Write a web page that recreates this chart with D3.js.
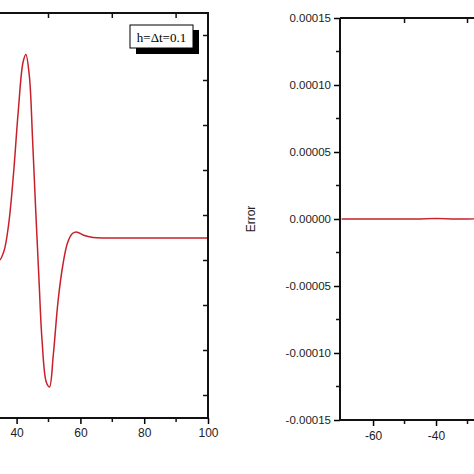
<!DOCTYPE html><html><head><meta charset="utf-8"><script src="https://cdn.jsdelivr.net/npm/d3@7"></script>
<style>body{margin:0;background:#fff}svg{display:block}</style></head><body><svg id="c" width="474" height="474"></svg>
<script>
const leftX=[33,34.5,36,37.5,39,40.5,42,42.9,44,45,46,47,48,49.3,50.3,51.5,53,54.5,56,57.5,59,61,64,68,80,100];
const leftY=[-0.2,-0.5,-0.3,0.3,1.4,2.8,3.9,4.08,3.6,2.2,0.6,-0.9,-2.3,-3.2,-3.31,-2.6,-1.4,-0.6,-0.1,0.1,0.13,0.06,0.01,0,0,0];
const rightX=[-70,-60,-50,-45,-40,-35,-30,-25,-20];
const rightY=[0,0,0,0,0.0000005,0,0,0.0000003,0];
const leftXTicks=[40,60,80,100];
const rightYTicks=[0.00015,0.0001,0.00005,0,-0.00005,-0.0001,-0.00015];
const rightXTicks=[-60,-40];
const legendText="h=Δt=0.1";

const svg=d3.select("#c");
const red="#c8202a";
const fmtH=f=>d=>f(d).replace("−","-");
// left panel
const xL=d3.scaleLinear().domain([0,100]).range([-111,208]);
const yL=d3.scaleLinear().domain([-4,5]).range([418,13]);
const gL=svg.append("g");
gL.append("path").datum(leftX.map((x,i)=>[x,leftY[i]])).attr("fill","none").attr("stroke",red).attr("stroke-width",1.5)
 .attr("d",d3.line().x(d=>xL(d[0])).y(d=>yL(d[1])).curve(d3.curveCatmullRom));
gL.append("rect").attr("x",xL(0)).attr("y",yL(5)).attr("width",xL(100)-xL(0)).attr("height",yL(-4)-yL(5)).attr("fill","none").attr("stroke","#111").attr("stroke-width",2);
const bx=gL.append("g").attr("transform",`translate(0,${yL(-4)})`).call(d3.axisBottom(xL).tickValues(leftXTicks).tickSize(6).tickPadding(4));
bx.select(".domain").remove();
bx.selectAll("text").attr("font-family","Liberation Sans, Arial").attr("font-size",12).attr("fill","#222");
bx.selectAll("line").attr("stroke-width",1.5);
[30,50,70,90].forEach(v=>gL.append("line").attr("x1",xL(v)).attr("x2",xL(v)).attr("y1",yL(-4)).attr("y2",yL(-4)+4).attr("stroke","#111").attr("stroke-width",1.5));
[50,70,90].forEach(v=>gL.append("line").attr("x1",xL(v)).attr("x2",xL(v)).attr("y1",yL(5)).attr("y2",yL(5)+5).attr("stroke","#111").attr("stroke-width",1.5));
d3.range(-3.5,5,1).forEach(v=>gL.append("line").attr("x1",xL(100)-5).attr("x2",xL(100)).attr("y1",yL(v)).attr("y2",yL(v)).attr("stroke","#111").attr("stroke-width",1.5));
// legend
gL.append("rect").attr("x",136).attr("y",30).attr("width",63).attr("height",24).attr("fill","#000");
gL.append("rect").attr("x",130).attr("y",25).attr("width",63).attr("height",23).attr("fill","#fff").attr("stroke","#000");
gL.append("text").attr("x",161.5).attr("y",41.5).attr("text-anchor","middle").attr("font-family","Liberation Serif, Times New Roman").attr("font-size",13).text(legendText);

// right panel
const xR=d3.scaleLinear().domain([-70.5,-20]).range([340,499]);
const yR=d3.scaleLinear().domain([-0.00015,0.00015]).range([420,18]);
const gR=svg.append("g");
gR.append("path").datum(rightX.map((x,i)=>[x,rightY[i]])).attr("fill","none").attr("stroke",red).attr("stroke-width",1.3)
 .attr("d",d3.line().x(d=>xR(d[0])).y(d=>yR(d[1])));
const ay=gR.append("g").attr("transform",`translate(340,0)`).call(d3.axisLeft(yR).tickValues(rightYTicks).tickFormat(fmtH(d3.format(".5f"))).tickSize(6).tickPadding(3));
ay.select(".domain").remove();
ay.selectAll("text").attr("font-family","Liberation Sans, Arial").attr("font-size",11.5).attr("fill","#222");
ay.selectAll("line").attr("stroke-width",1.5);
d3.range(-0.000125,0.00015,0.00005).forEach(v=>gR.append("line").attr("x1",336).attr("x2",340).attr("y1",yR(v)).attr("y2",yR(v)).attr("stroke","#111").attr("stroke-width",1.5));
const ax=gR.append("g").attr("transform",`translate(0,420)`).call(d3.axisBottom(xR).tickValues(rightXTicks).tickFormat(fmtH(d3.format("d"))).tickSize(6).tickPadding(5));
ax.select(".domain").remove();
ax.selectAll("text").attr("font-family","Liberation Sans, Arial").attr("font-size",12).attr("fill","#222");
ax.selectAll("line").attr("stroke-width",1.5);
[-50,-30].forEach(v=>{gR.append("line").attr("x1",xR(v)).attr("x2",xR(v)).attr("y1",420).attr("y2",424).attr("stroke","#111").attr("stroke-width",1.5);
 gR.append("line").attr("x1",xR(v)).attr("x2",xR(v)).attr("y1",18).attr("y2",23).attr("stroke","#111").attr("stroke-width",1.5);});
gR.append("path").attr("d","M340,18V420H474M340,18H474").attr("fill","none").attr("stroke","#111").attr("stroke-width",2);
gR.append("text").attr("transform","translate(255,219) rotate(-90)").attr("text-anchor","middle").attr("font-family","Liberation Sans, Arial").attr("font-size",12).attr("fill","#222").text("Error");
</script></body></html>
